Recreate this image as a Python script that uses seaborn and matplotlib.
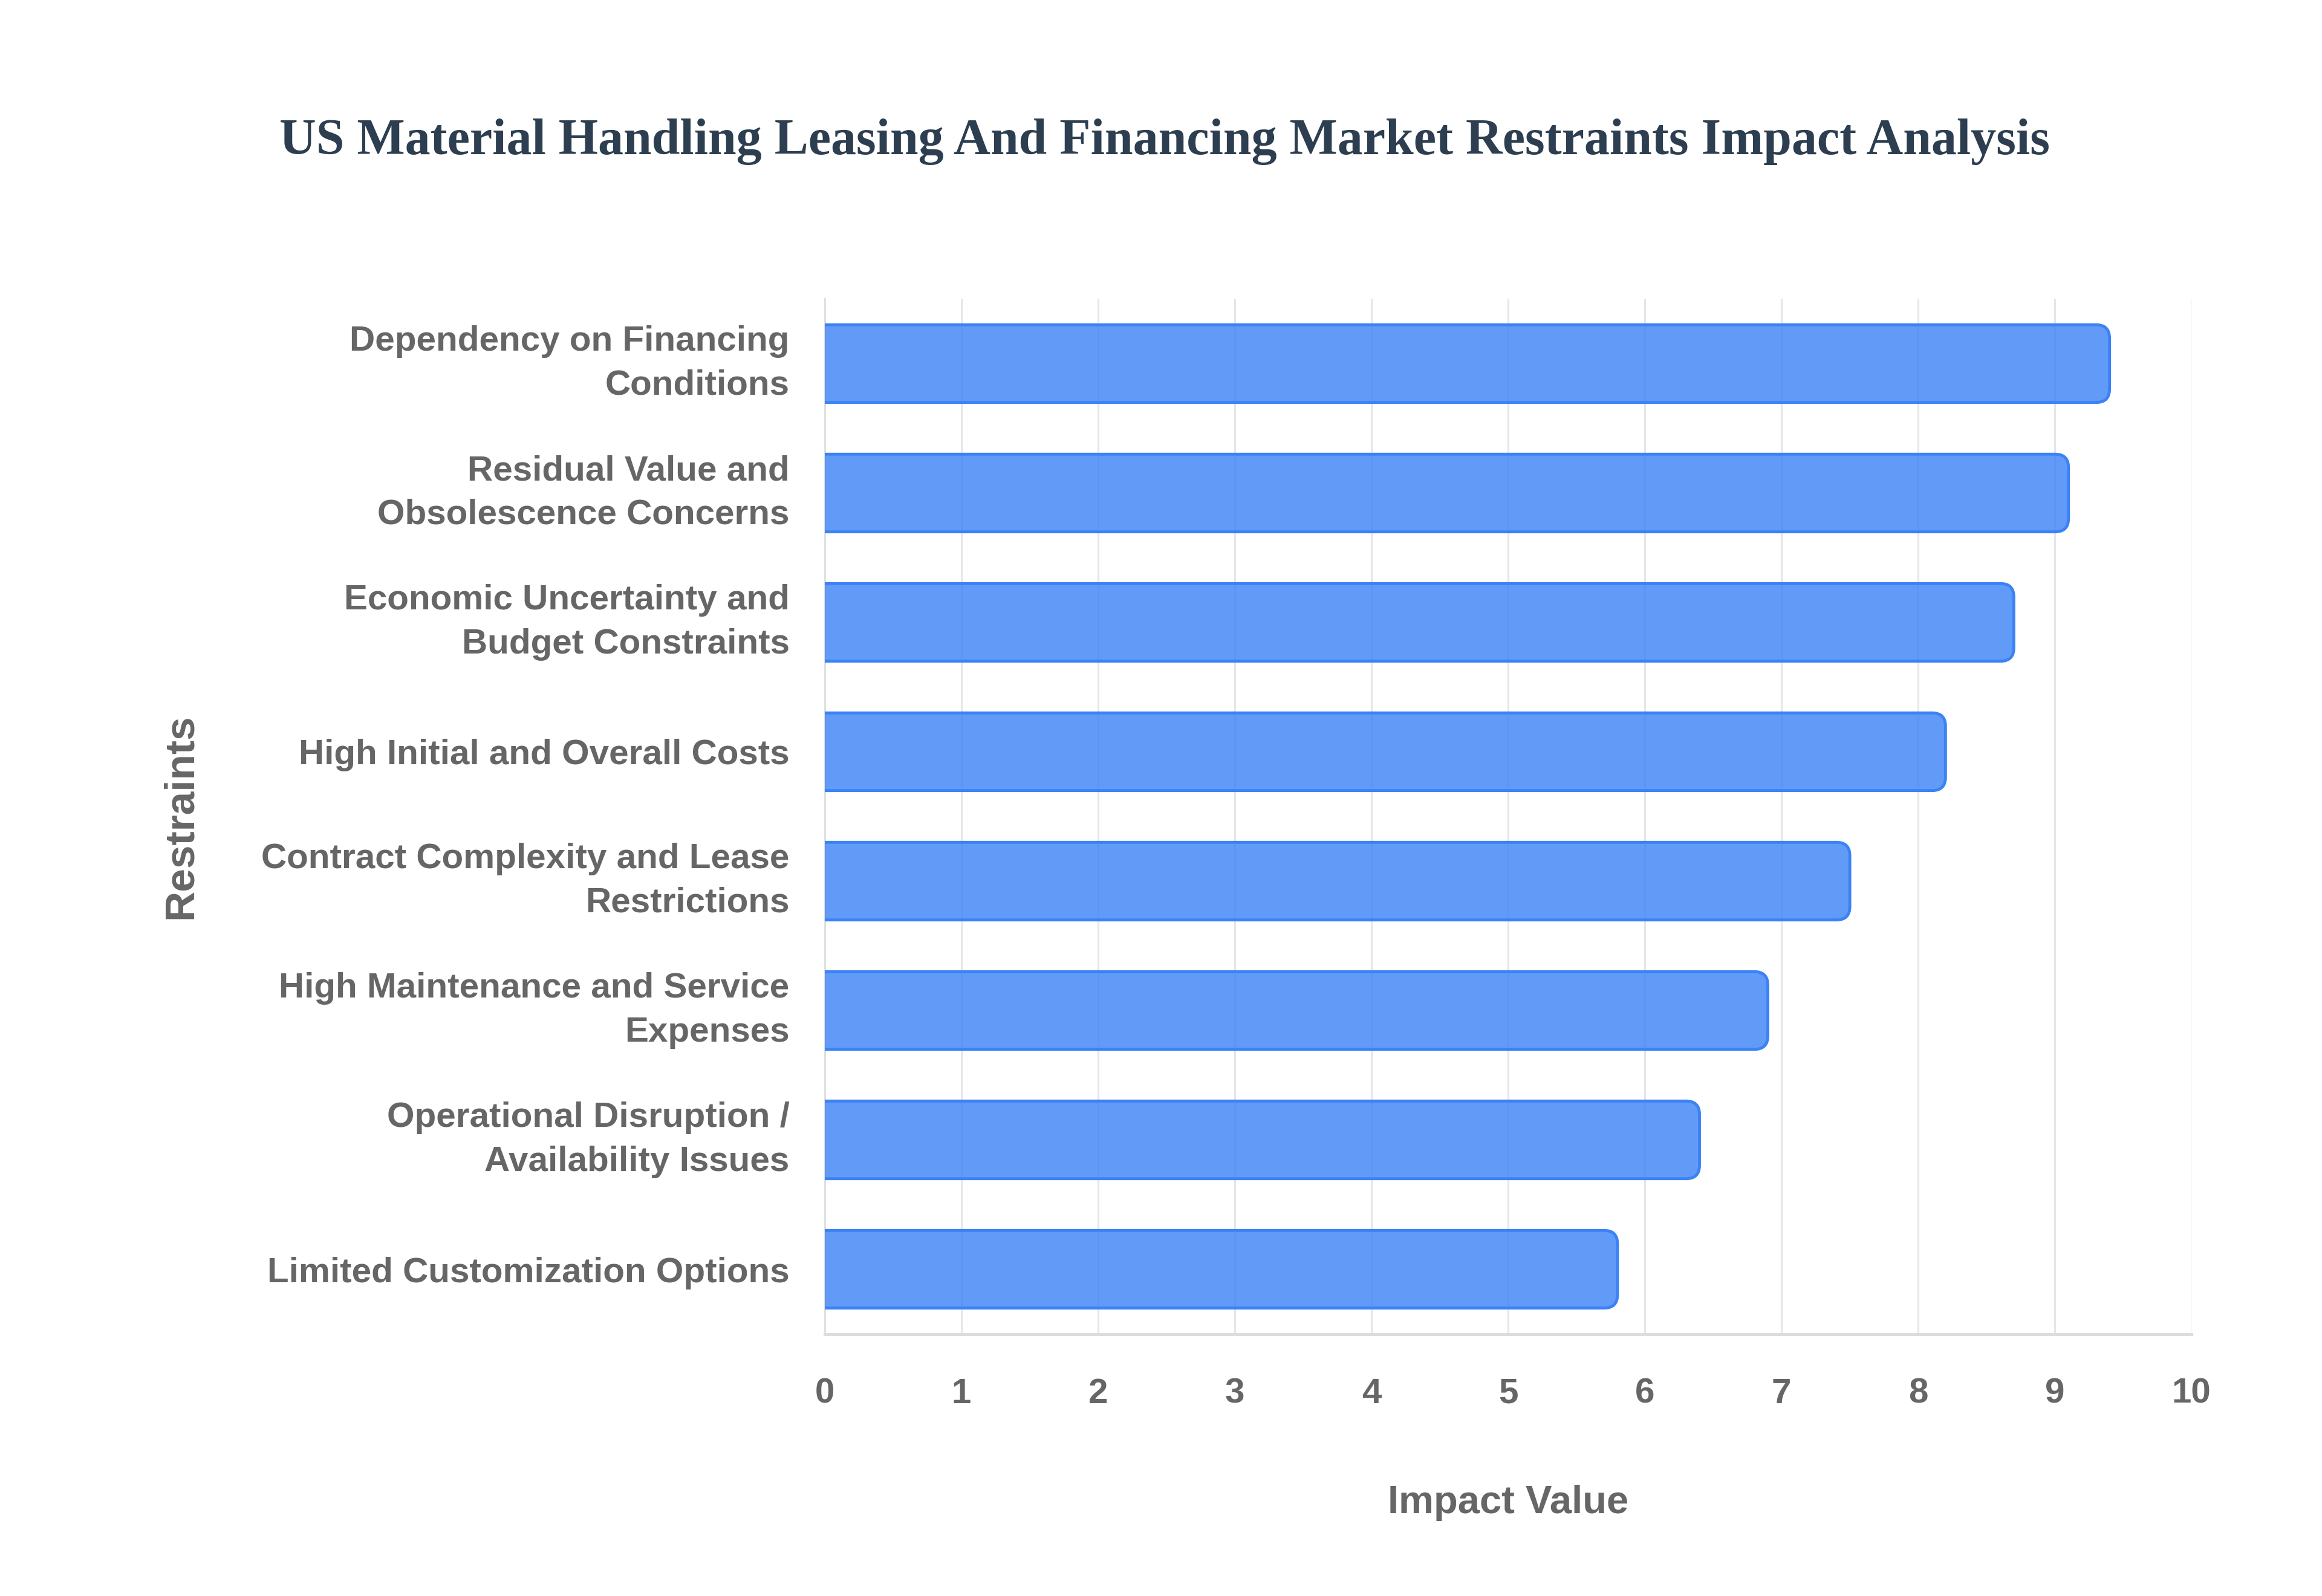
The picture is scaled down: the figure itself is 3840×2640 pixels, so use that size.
import textwrap
import matplotlib
matplotlib.use("Agg")
import matplotlib.pyplot as plt
from matplotlib.patches import FancyBboxPatch
import seaborn as sns
import pandas as pd

categories = [
    "Dependency on Financing Conditions",
    "Residual Value and Obsolescence Concerns",
    "Economic Uncertainty and Budget Constraints",
    "High Initial and Overall Costs",
    "Contract Complexity and Lease Restrictions",
    "High Maintenance and Service Expenses",
    "Operational Disruption / Availability Issues",
    "Limited Customization Options",
]
impact_values = [9.4, 9.1, 8.7, 8.2, 7.5, 6.9, 6.4, 5.8]
x_ticks = [0, 1, 2, 3, 4, 5, 6, 7, 8, 9, 10]

title = "US Material Handling Leasing And Financing Market Restraints Impact Analysis"
x_label = "Impact Value"
y_label = "Restraints"

df = pd.DataFrame({"Restraint": categories, "Impact": impact_values})

sns.set_theme(style="white")
plt.rcParams["font.family"] = ["Liberation Sans", "DejaVu Sans"]

fig = plt.figure(figsize=(38.4, 26.4), dpi=100)
left, right, bottom, top = 0.3552, 0.9438, 0.1642, 0.8127
ax = fig.add_axes([left, bottom, right - left, top - bottom])

fill = (59 / 255, 130 / 255, 246 / 255, 0.8)
edge = (59 / 255, 130 / 255, 246 / 255, 1.0)

sns.barplot(data=df, x="Impact", y="Restraint", orient="h", ax=ax,
            color=fill[:3], width=0.6, zorder=3)

ax.set_xlim(0, 10)
ax.set_ylim(len(categories) - 0.5, -0.5)

# replace rectangles with rounded bars (same geometry)
fig.canvas.draw()
tr = ax.transData
px_x = tr.transform((1, 0))[0] - tr.transform((0, 0))[0]
px_y = abs(tr.transform((0, 1))[1] - tr.transform((0, 0))[1])
r = 22 / px_x
rects = list(ax.patches)
for p in rects:
    x0, y0, w, h = p.get_x(), p.get_y(), p.get_width(), p.get_height()
    p.remove()
    fb = FancyBboxPatch((x0 - 3 * r, y0), w + 3 * r, h,
                        boxstyle=f"round,pad=0,rounding_size={r}",
                        mutation_aspect=px_x / px_y,
                        facecolor=fill, edgecolor=edge, linewidth=3.5,
                        zorder=3, clip_on=True)
    ax.add_patch(fb)

ax.set_xticks(x_ticks)
ax.set_xticklabels([str(t) for t in x_ticks])
ax.set_yticks(range(len(categories)))
ax.set_yticklabels([textwrap.fill(c, 30) for c in categories])

ax.grid(axis="x", color="#e6e6e6", linewidth=2.2, zorder=0)
ax.grid(axis="y", visible=False)
ax.set_axisbelow(True)

for s in ["top", "right"]:
    ax.spines[s].set_visible(False)
ax.spines["left"].set_color("#e0e0e0")
ax.spines["left"].set_linewidth(2.2)
ax.spines["bottom"].set_color("#dcdcdc")
ax.spines["bottom"].set_linewidth(3.5)

ax.tick_params(axis="x", length=22, width=2.2, color="#e6e6e6", pad=30,
               labelsize=42, labelcolor="#666666")
ax.tick_params(axis="y", length=0, pad=42, labelsize=42, labelcolor="#666666")
for lab in ax.get_xticklabels() + ax.get_yticklabels():
    lab.set_fontweight("bold")
for lab in ax.get_yticklabels():
    lab.set_linespacing(1.45)
    if "\n" in lab.get_text():
        lab.set_verticalalignment("center")

ax.set_xlabel(x_label, fontsize=47, fontweight="bold", color="#666666", labelpad=89)
ax.set_ylabel(y_label, fontsize=50, fontweight="bold", color="#666666", labelpad=73)

fig.text(0.5015, 0.911, title, ha="center", va="center", fontsize=60.5,
         fontweight="bold", color="#2c3e50",
         family=["Liberation Serif", "DejaVu Serif"])

fig.savefig("out.png", dpi=100, facecolor="white")
